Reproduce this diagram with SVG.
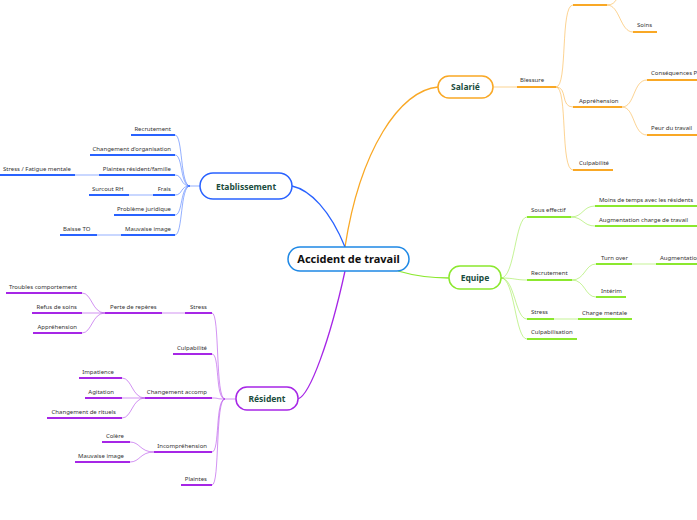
<svg xmlns="http://www.w3.org/2000/svg" width="697" height="520" viewBox="0 0 697 520">
<style>
text{font-family:"Noto Sans","Open Sans",sans-serif;font-size:6px;fill:#333}
.e{text-anchor:end}
.t{font-size:8.5px;font-weight:bold;fill:#1b4d3e;text-anchor:middle}
.o{stroke:#f9a825}.g{stroke:#8be82e}.b{stroke:#2962ff}.p{stroke:#a626e6}
.u{stroke-width:2;fill:none}
.c{stroke-width:1;fill:none;stroke-opacity:.5}
.m{stroke-width:1.3;fill:none}
.n{fill:#fff;stroke-width:1.5}
</style>
<rect width="697" height="520" fill="#fff"/>
<g id="connectors">
<path class="m o" d="M345 247 C360 150 400 90 438 87"/>
<path class="m g" d="M398 271 C415 276 430 278 449 278"/>
<path class="m b" d="M345 247 C330 210 310 190 292 186"/>
<path class="m p" d="M345 271 C330 340 310 395 298 399"/>
<path class="c o" d="M493 87 H517"/>
<path class="c o" d="M556 87 C568 87 560 5 573 5"/>
<path class="c o" d="M556 87 C568 87 560 107 573 107"/>
<path class="c o" d="M556 87 C568 87 560 170 573 170"/>
<path class="c o" d="M607 5 C618 5 615 -5 625 -8"/>
<path class="c o" d="M607 5 C620 5 620 32 633 32"/>
<path class="c o" d="M622 107 C635 107 633 80 647 80"/>
<path class="c o" d="M622 107 C635 107 633 135 647 135"/>
<path class="c g" d="M501 278 C515 278 515 217 527 217"/>
<path class="c g" d="M501 278 C515 278 515 280 527 280"/>
<path class="c g" d="M501 278 C515 278 515 319 527 319"/>
<path class="c g" d="M501 278 C515 278 515 339 527 339"/>
<path class="c g" d="M571 217 C583 217 583 206 595 206"/>
<path class="c g" d="M571 217 C583 217 583 226 595 226"/>
<path class="c g" d="M572 280 C585 280 585 264 596 264"/>
<path class="c g" d="M572 280 C585 280 585 297 596 297"/>
<path class="c g" d="M632 264 H656"/>
<path class="c g" d="M554 319 H578"/>
<path class="c b" d="M200 186 H190"/>
<path class="c b" d="M190 186 C180 186 183 135 175 135"/>
<path class="c b" d="M190 186 C180 186 183 155 175 155"/>
<path class="c b" d="M190 186 C180 186 183 175 175 175"/>
<path class="c b" d="M190 186 C180 186 183 195 175 195"/>
<path class="c b" d="M190 186 C180 186 183 215 175 215"/>
<path class="c b" d="M190 186 C180 186 183 235 175 235"/>
<path class="c b" d="M99 175 H75"/>
<path class="c b" d="M153 195 H129"/>
<path class="c b" d="M121 235 H97"/>
<path class="c p" d="M236 399 H225"/>
<path class="c p" d="M225 399 C215 399 220 313 212 313"/>
<path class="c p" d="M225 399 C215 399 220 354 212 354"/>
<path class="c p" d="M225 399 C215 399 220 398 212 398"/>
<path class="c p" d="M225 399 C215 399 220 452 212 452"/>
<path class="c p" d="M225 399 C215 399 220 485 212 485"/>
<path class="c p" d="M185 313 H162"/>
<path class="c p" d="M105 313 C92 313 92 293 82 293"/>
<path class="c p" d="M105 313 H82"/>
<path class="c p" d="M105 313 C92 313 92 333 82 333"/>
<path class="c p" d="M145 398 C132 398 132 378 122 378"/>
<path class="c p" d="M145 398 H122"/>
<path class="c p" d="M145 398 C132 398 132 418 122 418"/>
<path class="c p" d="M154 452 C140 452 140 442 130 442"/>
<path class="c p" d="M154 452 C140 452 140 462 130 462"/>
</g>
<g id="center"><rect x="288" y="247" width="121" height="24" rx="12" class="n" stroke="#1e88e5"/><text x="348.5" y="263" class="t" style="font-size:11px;fill:#111">Accident de travail</text></g>
<g id="salarie"><rect x="438" y="76" width="55" height="22" rx="11" class="n o"/><text x="465.5" y="90" class="t">Salarié</text></g>
<g id="equipe"><rect x="449" y="266" width="52" height="23" rx="11" class="n g"/><text x="475" y="281" class="t">Equipe</text></g>
<g id="etablissement"><rect x="200" y="173" width="92" height="26" rx="13" class="n b"/><text x="246" y="190" class="t">Etablissement</text></g>
<g id="resident"><rect x="236" y="387" width="62" height="23" rx="11" class="n p"/><text x="267" y="402" class="t">Résident</text></g>
<g id="salarie-leaves">
<path class="u o" d="M517 87H556M573 5H607M633 32H657M573 107H622M573 170H613M647 80H697M647 135H697"/>
<text x="520" y="82">Blessure</text><text x="637" y="27">Soins</text><text x="579" y="103">Appréhension</text><text x="579" y="165">Culpabilité</text><text x="651" y="75">Conséquences P</text><text x="651" y="130">Peur du travail</text>
</g>
<g id="equipe-leaves">
<path class="u g" d="M527 217H571M527 280H572M527 319H554M527 339H577M595 206H697M595 226H697M596 264H632M596 297H626M656 264H697M578 319H632"/>
<text x="531" y="212">Sous effectif</text><text x="531" y="275">Recrutement</text><text x="531" y="314">Stress</text><text x="531" y="334">Culpabilisation</text><text x="599" y="202" textLength="94">Moins de temps avec les résidents</text><text x="599" y="222">Augmentation charge de travail</text><text x="601" y="260">Turn over</text><text x="601" y="293">Intérim</text><text x="660" y="260">Augmentation</text><text x="582" y="315">Charge mentale</text>
</g>
<g id="etablissement-leaves">
<path class="u b" d="M131 135H175M90 155H175M99 175H175M0 175H75M153 195H175M89 195H129M114 215H175M121 235H175M60 235H97"/>
<text x="171" y="131" class="e">Recrutement</text><text x="171" y="151" class="e">Changement d'organisation</text><text x="171" y="171" class="e">Plaintes résident/famille</text><text x="3" y="171">Stress / Fatigue mentale</text><text x="171" y="191" class="e">Frais</text><text x="92" y="191">Surcout RH</text><text x="171" y="211" class="e">Problème juridique</text><text x="171" y="231" class="e">Mauvaise image</text><text x="63" y="231">Baisse TO</text>
</g>
<g id="resident-leaves">
<path class="u p" d="M185 313H212M173 354H212M145 398H212M154 452H212M181 485H212M105 313H162M6 293H82M32 313H82M33 333H82M79 378H122M85 398H122M47 418H122M102 442H130M75 462H130"/>
<text x="207" y="309" class="e">Stress</text><text x="207" y="350" class="e">Culpabilité</text><text x="207" y="394" class="e">Changement accomp</text><text x="207" y="448" class="e">Incompréhension</text><text x="207" y="481" class="e">Plaintes</text><text x="110" y="309">Perte de repères</text><text x="77" y="289" class="e">Troubles comportement</text><text x="77" y="309" class="e">Refus de soins</text><text x="77" y="329" class="e">Appréhension</text><text x="114" y="374" class="e">Impatience</text><text x="114" y="394" class="e">Agitation</text><text x="116" y="414" class="e">Changement de rituels</text><text x="124" y="438" class="e">Colère</text><text x="124" y="458" class="e">Mauvaise image</text>
</g>
</svg>
